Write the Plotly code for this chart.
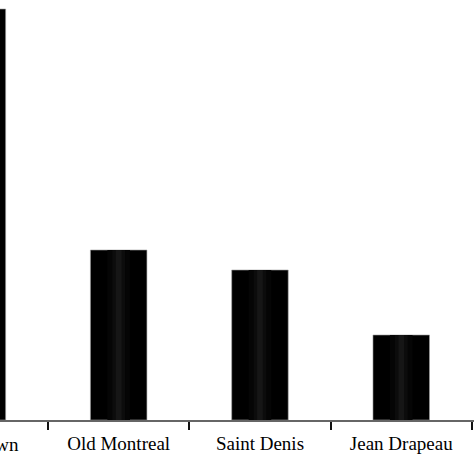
import plotly.graph_objects as go

# neighbourhoods (left one is cut off at the frame edge)
districts = ["Downtown", "Old Montreal", "Saint Denis", "Jean Drapeau"]
values = [41.1, 17.0, 15.0, 8.5]

fig = go.Figure()

# black bars, then a few narrow dark grey strips to fake the sheen
fig.add_trace(go.Bar(x=districts, y=values, width=0.4,
                     marker=dict(color="#000000", line=dict(color="#a0a0a0", width=0.6))))
fig.add_trace(go.Bar(x=districts, y=values, width=0.16,
                     marker=dict(color="#050505", line=dict(width=0))))
fig.add_trace(go.Bar(x=districts, y=values, width=0.09,
                     marker=dict(color="#0c0c0c", line=dict(width=0))))
fig.add_trace(go.Bar(x=districts, y=values, width=0.04,
                     marker=dict(color="#161616", line=dict(width=0))))

fig.update_layout(
    width=474, height=474,
    margin=dict(l=0, r=0, t=0, b=54),
    paper_bgcolor="white", plot_bgcolor="white",
    barmode="overlay", showlegend=False,
    font=dict(family="Liberation Serif, DejaVu Serif, serif", size=19, color="black"),
    xaxis=dict(
        type="category", range=[0.16, 3.515], automargin=False,
        showline=True, linecolor="#666666", linewidth=1.5,
        ticks="outside", tickson="boundaries", ticklen=8, tickwidth=2, tickcolor="#111111",
        ticklabelstandoff=5,
        showgrid=False, zeroline=False,
    ),
    yaxis=dict(range=[0, 42], visible=False, automargin=False),
)

# the first category's label sits mostly outside the frame, so it is
# drawn as an annotation hanging off the left edge
fig.add_annotation(text=districts[0], xref="paper", yref="paper", x=0, y=0,
                   xanchor="right", yanchor="top", xshift=21, yshift=-12,
                   showarrow=False, font=dict(size=19))

fig.write_html("out.html", config={"displayModeBar": False},
               post_script="document.body.style.margin='0';")
